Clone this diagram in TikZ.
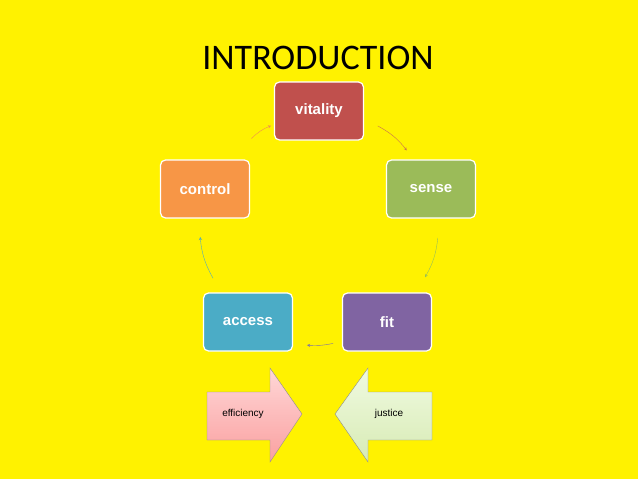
\documentclass[tikz,border=0pt]{standalone}
\usepackage{fontspec}
\setmainfont{Liberation Sans}
\newfontfamily\titlefont{Carlito}
\begin{document}
\begin{tikzpicture}[x=1pt,y=-1pt,
  box/.style={draw=white,line width=1.2pt,rounded corners=5pt,minimum width=89pt,minimum height=58pt,inner sep=0pt,text=white,font=\bfseries\fontsize{15}{18}\selectfont},
  conn/.style={->,>=stealth,line width=0.4pt,shorten >=2pt,shorten <=2pt},
  blk/.style={draw=black!45,line width=0.4pt}]
\fill[yellow] (0,0) rectangle (638,479);
\useasboundingbox (0,0) rectangle (638,479);
\node[font=\titlefont\fontsize{36}{40}\selectfont] (title) at (318,58) {INTRODUCTION};
\node[box,fill={rgb,255:red,192;green,80;blue,77}] (vit) at (319,111) {vitality};
\node[box,fill={rgb,255:red,155;green,187;blue,89}] (sen) at (431,189) {sense};
\node[box,fill={rgb,255:red,128;green,100;blue,162}] (fit) at (387,322) {fit};
\node[box,fill={rgb,255:red,75;green,172;blue,198}] (acc) at (248,322) {access};
\node[box,fill={rgb,255:red,247;green,150;blue,70}] (con) at (205,189) {control};
\coordinate (c1a) at (250,140); \coordinate (c1b) at (273,125);
\coordinate (c2a) at (376,125); \coordinate (c2b) at (408,152);
\coordinate (c3a) at (438,236); \coordinate (c3b) at (424,279);
\coordinate (c4a) at (335,343); \coordinate (c4b) at (305,345);
\coordinate (c5a) at (214,280); \coordinate (c5b) at (200,235);
\draw[conn,draw={rgb,255:red,240;green,140;blue,80}] (c1a) to[bend left=12] (c1b);
\draw[conn,draw={rgb,255:red,200;green,110;blue,80}] (c2a) to[bend left=12] (c2b);
\draw[conn,draw={rgb,255:red,150;green,190;blue,90}] (c3a) to[bend left=12] (c3b);
\draw[conn,draw={rgb,255:red,120;green,110;blue,170}] (c4a) to[bend left=8] (c4b);
\draw[conn,draw={rgb,255:red,80;green,170;blue,190}] (c5a) to[bend left=12] (c5b);
\shade[blk,top color={rgb,255:red,255;green,215;blue,215},bottom color={rgb,255:red,250;green,160;blue,160}]
  (207,392) -- (270,392) -- (270,368) -- (302,414) -- (270,462) -- (270,440) -- (207,440) -- cycle;
\node[font=\fontsize{10}{12}\selectfont] (eff) at (243,414) {efficiency};
\shade[blk,top color={rgb,255:red,240;green,250;blue,225},bottom color={rgb,255:red,215;green,235;blue,180}]
  (432,392) -- (368,392) -- (368,368) -- (335,414) -- (368,462) -- (368,440) -- (432,440) -- cycle;
\node[font=\fontsize{10}{12}\selectfont] (jus) at (389,414) {justice};
\end{tikzpicture}
\end{document}
